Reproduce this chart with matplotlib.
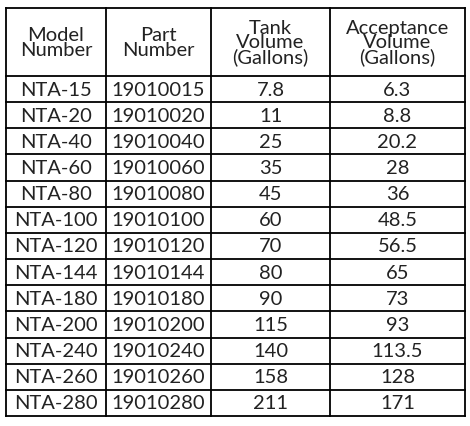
import matplotlib
matplotlib.use('Agg')
import matplotlib.pyplot as plt

headers = ['Model\nNumber', 'Part\nNumber', 'Tank\nVolume\n(Gallons)', 'Acceptance\nVolume\n(Gallons)']
models = ['NTA-15', 'NTA-20', 'NTA-40', 'NTA-60', 'NTA-80', 'NTA-100', 'NTA-120',
          'NTA-144', 'NTA-180', 'NTA-200', 'NTA-240', 'NTA-260', 'NTA-280']
parts = ['19010015', '19010020', '19010040', '19010060', '19010080', '19010100', '19010120',
         '19010144', '19010180', '19010200', '19010240', '19010260', '19010280']
tank = ['7.8', '11', '25', '35', '45', '60', '70', '80', '90', '115', '140', '158', '211']
accept = ['6.3', '8.8', '20.2', '28', '36', '48.5', '56.5', '65', '73', '93', '113.5', '128', '171']

# layout in pixels
col_x = [6, 106, 211, 330, 465]
top, head_bot, bottom = 8, 76, 416
row_h = (bottom - head_bot) / len(models)

fig = plt.figure(figsize=(4.70, 4.26), dpi=100)
ax = fig.add_axes([0, 0, 1, 1])
ax.set_xlim(0, 470)
ax.set_ylim(426, 0)
ax.axis('off')

font = dict(family=['Lato', 'DejaVu Sans'], color='#222222')

for x in col_x:
    ax.plot([x, x], [top, bottom], color='black', lw=1.3)
ax.plot([col_x[0], col_x[-1]], [top, top], color='black', lw=1.3)
for i in range(len(models) + 1):
    y = head_bot + i * row_h
    ax.plot([col_x[0], col_x[-1]], [y, y], color='black', lw=1.3)

for j, h in enumerate(headers):
    cx = (col_x[j] + col_x[j + 1]) / 2
    ax.text(cx, (top + head_bot) / 2 + 1, h, ha='center', va='center',
            fontsize=14.5, linespacing=0.82, **font)

for i, row in enumerate(zip(models, parts, tank, accept)):
    cy = head_bot + (i + 0.5) * row_h + 1
    for j, val in enumerate(row):
        cx = (col_x[j] + col_x[j + 1]) / 2
        ax.text(cx, cy, val, ha='center', va='center', fontsize=14.5, **font)

fig.savefig('out.png', dpi=100)
